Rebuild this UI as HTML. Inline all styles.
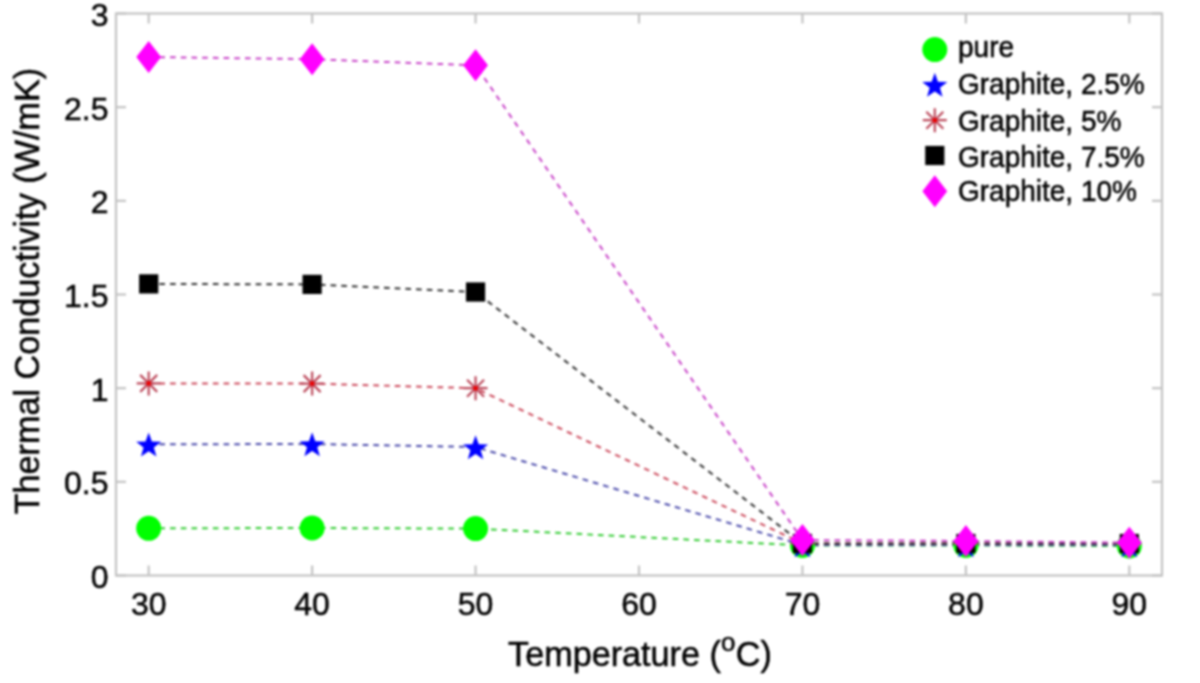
<!DOCTYPE html>
<html><head><meta charset="utf-8"><style>
html,body{margin:0;padding:0;background:#fff;width:1200px;height:683px;overflow:hidden}
svg{display:block}
#wrap{filter:blur(0.8px)}
.t{font-family:"Liberation Sans",sans-serif;font-size:32px;fill:#000;stroke:#000;stroke-width:0.5px}
.tt{font-family:"Liberation Sans",sans-serif;font-size:34.2px;fill:#000;stroke:#000;stroke-width:0.5px}
.lg{font-family:"Liberation Sans",sans-serif;font-size:28px;fill:#000;stroke:#000;stroke-width:0.5px}
</style></head><body>
<div id="wrap"><svg width="1200" height="683" viewBox="0 0 1200 683">
<rect x="116.0" y="13.5" width="1046.0" height="562.0" fill="none" stroke="#c3c3c3" stroke-width="2.2"/>
<line x1="148.69" y1="575.5" x2="148.69" y2="565.5" stroke="#c3c3c3" stroke-width="2.2"/>
<line x1="148.69" y1="13.5" x2="148.69" y2="23.5" stroke="#c3c3c3" stroke-width="2.2"/>
<line x1="312.12" y1="575.5" x2="312.12" y2="565.5" stroke="#c3c3c3" stroke-width="2.2"/>
<line x1="312.12" y1="13.5" x2="312.12" y2="23.5" stroke="#c3c3c3" stroke-width="2.2"/>
<line x1="475.56" y1="575.5" x2="475.56" y2="565.5" stroke="#c3c3c3" stroke-width="2.2"/>
<line x1="475.56" y1="13.5" x2="475.56" y2="23.5" stroke="#c3c3c3" stroke-width="2.2"/>
<line x1="639.00" y1="575.5" x2="639.00" y2="565.5" stroke="#c3c3c3" stroke-width="2.2"/>
<line x1="639.00" y1="13.5" x2="639.00" y2="23.5" stroke="#c3c3c3" stroke-width="2.2"/>
<line x1="802.44" y1="575.5" x2="802.44" y2="565.5" stroke="#c3c3c3" stroke-width="2.2"/>
<line x1="802.44" y1="13.5" x2="802.44" y2="23.5" stroke="#c3c3c3" stroke-width="2.2"/>
<line x1="965.88" y1="575.5" x2="965.88" y2="565.5" stroke="#c3c3c3" stroke-width="2.2"/>
<line x1="965.88" y1="13.5" x2="965.88" y2="23.5" stroke="#c3c3c3" stroke-width="2.2"/>
<line x1="1129.31" y1="575.5" x2="1129.31" y2="565.5" stroke="#c3c3c3" stroke-width="2.2"/>
<line x1="1129.31" y1="13.5" x2="1129.31" y2="23.5" stroke="#c3c3c3" stroke-width="2.2"/>
<line x1="116.0" y1="575.50" x2="126.0" y2="575.50" stroke="#c3c3c3" stroke-width="2.2"/>
<line x1="1162.0" y1="575.50" x2="1152.0" y2="575.50" stroke="#c3c3c3" stroke-width="2.2"/>
<line x1="116.0" y1="481.83" x2="126.0" y2="481.83" stroke="#c3c3c3" stroke-width="2.2"/>
<line x1="1162.0" y1="481.83" x2="1152.0" y2="481.83" stroke="#c3c3c3" stroke-width="2.2"/>
<line x1="116.0" y1="388.17" x2="126.0" y2="388.17" stroke="#c3c3c3" stroke-width="2.2"/>
<line x1="1162.0" y1="388.17" x2="1152.0" y2="388.17" stroke="#c3c3c3" stroke-width="2.2"/>
<line x1="116.0" y1="294.50" x2="126.0" y2="294.50" stroke="#c3c3c3" stroke-width="2.2"/>
<line x1="1162.0" y1="294.50" x2="1152.0" y2="294.50" stroke="#c3c3c3" stroke-width="2.2"/>
<line x1="116.0" y1="200.83" x2="126.0" y2="200.83" stroke="#c3c3c3" stroke-width="2.2"/>
<line x1="1162.0" y1="200.83" x2="1152.0" y2="200.83" stroke="#c3c3c3" stroke-width="2.2"/>
<line x1="116.0" y1="107.17" x2="126.0" y2="107.17" stroke="#c3c3c3" stroke-width="2.2"/>
<line x1="1162.0" y1="107.17" x2="1152.0" y2="107.17" stroke="#c3c3c3" stroke-width="2.2"/>
<line x1="116.0" y1="13.50" x2="126.0" y2="13.50" stroke="#c3c3c3" stroke-width="2.2"/>
<line x1="1162.0" y1="13.50" x2="1152.0" y2="13.50" stroke="#c3c3c3" stroke-width="2.2"/>
<text x="148.69" y="615" text-anchor="middle" class="t">30</text>
<text x="312.12" y="615" text-anchor="middle" class="t">40</text>
<text x="475.56" y="615" text-anchor="middle" class="t">50</text>
<text x="639.00" y="615" text-anchor="middle" class="t">60</text>
<text x="802.44" y="615" text-anchor="middle" class="t">70</text>
<text x="965.88" y="615" text-anchor="middle" class="t">80</text>
<text x="1129.31" y="615" text-anchor="middle" class="t">90</text>
<text x="108.5" y="588.10" text-anchor="end" class="t">0</text>
<text x="108.5" y="494.43" text-anchor="end" class="t">0.5</text>
<text x="108.5" y="400.77" text-anchor="end" class="t">1</text>
<text x="108.5" y="307.10" text-anchor="end" class="t">1.5</text>
<text x="108.5" y="213.43" text-anchor="end" class="t">2</text>
<text x="108.5" y="119.77" text-anchor="end" class="t">2.5</text>
<text x="108.5" y="26.10" text-anchor="end" class="t">3</text>
<text x="640" y="666" text-anchor="middle" class="tt">Temperature (<tspan font-size="26" dy="-15">o</tspan><tspan dy="15" dx="0.5">C)</tspan></text>
<text transform="translate(38.7,291.1) rotate(-90)" x="0" y="0" text-anchor="middle" class="tt">Thermal Conductivity (W/mK)</text>
<polyline points="148.69,528.30 312.12,528.00 475.56,528.60 802.44,545.50" fill="none" stroke="#33cc33" stroke-width="2" stroke-dasharray="5.6 5.1"/>
<polyline points="148.69,444.30 312.12,444.00 475.56,447.00 802.44,545.00" fill="none" stroke="#4a4aaa" stroke-width="2" stroke-dasharray="5.6 5.1"/>
<polyline points="148.69,383.40 312.12,383.60 475.56,388.20 802.44,543.50" fill="none" stroke="#cc4a5c" stroke-width="2" stroke-dasharray="5.6 5.1"/>
<polyline points="148.69,283.90 312.12,284.40 475.56,292.00 802.44,543.50" fill="none" stroke="#333333" stroke-width="2" stroke-dasharray="5.6 5.1"/>
<polyline points="148.69,57.00 312.12,59.20 475.56,65.30 802.44,540.00" fill="none" stroke="#c844c8" stroke-width="2" stroke-dasharray="5.6 5.1"/>
<polyline points="802.44,545.50 965.88,545.50 1129.31,546.00" fill="none" stroke="#33cc33" stroke-width="2" stroke-dasharray="5.6 5.1"/>
<polyline points="802.44,545.00 965.88,545.00 1129.31,545.00" fill="none" stroke="#4a4aaa" stroke-width="2" stroke-dasharray="5.6 5.1"/>
<polyline points="802.44,543.50 965.88,543.50 1129.31,543.50" fill="none" stroke="#cc4a5c" stroke-width="2" stroke-dasharray="5.6 5.1"/>
<polyline points="802.44,543.50 965.88,543.50 1129.31,543.50" fill="none" stroke="#333333" stroke-width="2" stroke-dasharray="5.6 5.1"/>
<polyline points="802.44,540.00 965.88,541.00 1129.31,542.70" fill="none" stroke="#c844c8" stroke-width="2" stroke-dasharray="5.6 5.1"/>
<circle cx="148.69" cy="528.30" r="12.5" fill="#00ff00"/>
<circle cx="312.12" cy="528.00" r="12.5" fill="#00ff00"/>
<circle cx="475.56" cy="528.60" r="12.5" fill="#00ff00"/>
<circle cx="802.44" cy="545.50" r="12.5" fill="#00ff00"/>
<circle cx="965.88" cy="545.50" r="12.5" fill="#00ff00"/>
<circle cx="1129.31" cy="546.00" r="12.5" fill="#00ff00"/>
<path d="M148.69,432.60 L151.86,441.43 L161.24,441.72 L153.82,447.47 L156.45,456.48 L148.69,451.20 L140.93,456.48 L143.55,447.47 L136.13,441.72 L145.51,441.43 Z" fill="#0000ff"/>
<path d="M312.12,432.30 L315.30,441.13 L324.68,441.42 L317.26,447.17 L319.88,456.18 L312.12,450.90 L304.37,456.18 L306.99,447.17 L299.57,441.42 L308.95,441.13 Z" fill="#0000ff"/>
<path d="M475.56,435.30 L478.74,444.13 L488.12,444.42 L480.70,450.17 L483.32,459.18 L475.56,453.90 L467.80,459.18 L470.43,450.17 L463.01,444.42 L472.39,444.13 Z" fill="#0000ff"/>
<path d="M802.44,533.30 L805.61,542.13 L814.99,542.42 L807.57,548.17 L810.20,557.18 L802.44,551.90 L794.68,557.18 L797.30,548.17 L789.88,542.42 L799.26,542.13 Z" fill="#0000ff"/>
<path d="M965.88,533.30 L969.05,542.13 L978.43,542.42 L971.01,548.17 L973.63,557.18 L965.88,551.90 L958.12,557.18 L960.74,548.17 L953.32,542.42 L962.70,542.13 Z" fill="#0000ff"/>
<path d="M1129.31,533.30 L1132.49,542.13 L1141.87,542.42 L1134.45,548.17 L1137.07,557.18 L1129.31,551.90 L1121.55,557.18 L1124.18,548.17 L1116.76,542.42 L1126.14,542.13 Z" fill="#0000ff"/>
<path d="M136.69,383.40 L160.69,383.40 M148.69,371.40 L148.69,395.40 M140.19,374.90 L157.19,391.90 M140.19,391.90 L157.19,374.90" stroke="#bc4a5c" stroke-width="2.2" fill="none"/><circle cx="148.69" cy="383.40" r="2.3" fill="#ee0000"/>
<path d="M300.12,383.60 L324.12,383.60 M312.12,371.60 L312.12,395.60 M303.62,375.10 L320.62,392.10 M303.62,392.10 L320.62,375.10" stroke="#bc4a5c" stroke-width="2.2" fill="none"/><circle cx="312.12" cy="383.60" r="2.3" fill="#ee0000"/>
<path d="M463.56,388.20 L487.56,388.20 M475.56,376.20 L475.56,400.20 M467.06,379.70 L484.06,396.70 M467.06,396.70 L484.06,379.70" stroke="#bc4a5c" stroke-width="2.2" fill="none"/><circle cx="475.56" cy="388.20" r="2.3" fill="#ee0000"/>
<path d="M790.44,543.50 L814.44,543.50 M802.44,531.50 L802.44,555.50 M793.94,535.00 L810.94,552.00 M793.94,552.00 L810.94,535.00" stroke="#bc4a5c" stroke-width="2.2" fill="none"/><circle cx="802.44" cy="543.50" r="2.3" fill="#ee0000"/>
<path d="M953.88,543.50 L977.88,543.50 M965.88,531.50 L965.88,555.50 M957.38,535.00 L974.38,552.00 M957.38,552.00 L974.38,535.00" stroke="#bc4a5c" stroke-width="2.2" fill="none"/><circle cx="965.88" cy="543.50" r="2.3" fill="#ee0000"/>
<path d="M1117.31,543.50 L1141.31,543.50 M1129.31,531.50 L1129.31,555.50 M1120.81,535.00 L1137.81,552.00 M1120.81,552.00 L1137.81,535.00" stroke="#bc4a5c" stroke-width="2.2" fill="none"/><circle cx="1129.31" cy="543.50" r="2.3" fill="#ee0000"/>
<rect x="139.09" y="274.30" width="19.2" height="19.2" fill="#000000"/>
<rect x="302.52" y="274.80" width="19.2" height="19.2" fill="#000000"/>
<rect x="465.96" y="282.40" width="19.2" height="19.2" fill="#000000"/>
<rect x="792.84" y="533.90" width="19.2" height="19.2" fill="#000000"/>
<rect x="956.27" y="533.90" width="19.2" height="19.2" fill="#000000"/>
<rect x="1119.71" y="533.90" width="19.2" height="19.2" fill="#000000"/>
<path d="M148.69,41.00 L161.09,57.00 L148.69,73.00 L136.29,57.00 Z" fill="#ff00ff"/>
<path d="M312.12,43.20 L324.52,59.20 L312.12,75.20 L299.73,59.20 Z" fill="#ff00ff"/>
<path d="M475.56,49.30 L487.96,65.30 L475.56,81.30 L463.16,65.30 Z" fill="#ff00ff"/>
<path d="M802.44,524.00 L814.84,540.00 L802.44,556.00 L790.04,540.00 Z" fill="#ff00ff"/>
<path d="M965.88,525.00 L978.27,541.00 L965.88,557.00 L953.48,541.00 Z" fill="#ff00ff"/>
<path d="M1129.31,526.70 L1141.71,542.70 L1129.31,558.70 L1116.91,542.70 Z" fill="#ff00ff"/>
<circle cx="934.80" cy="49.60" r="12.5" fill="#00ff00"/>
<text transform="translate(958,56.80) scale(1,1.08)" x="0" y="0" class="lg">pure</text>
<path d="M934.80,72.80 L937.97,81.63 L947.35,81.92 L939.94,87.67 L942.56,96.68 L934.80,91.40 L927.04,96.68 L929.66,87.67 L922.25,81.92 L931.63,81.63 Z" fill="#0000ff"/>
<text transform="translate(958,94.00) scale(1,1.08)" x="0" y="0" class="lg">Graphite, 2.5%</text>
<path d="M922.80,120.20 L946.80,120.20 M934.80,108.20 L934.80,132.20 M926.30,111.70 L943.30,128.70 M926.30,128.70 L943.30,111.70" stroke="#bc4a5c" stroke-width="2.2" fill="none"/><circle cx="934.80" cy="120.20" r="2.3" fill="#ee0000"/>
<text transform="translate(958,131.30) scale(1,1.08)" x="0" y="0" class="lg">Graphite, 5%</text>
<rect x="925.20" y="145.90" width="19.2" height="19.2" fill="#000000"/>
<text transform="translate(958,166.80) scale(1,1.08)" x="0" y="0" class="lg">Graphite, 7.5%</text>
<path d="M934.80,175.30 L947.20,191.30 L934.80,207.30 L922.40,191.30 Z" fill="#ff00ff"/>
<text transform="translate(958,200.80) scale(1,1.08)" x="0" y="0" class="lg">Graphite, 10%</text>
</svg></div>
</body></html>
